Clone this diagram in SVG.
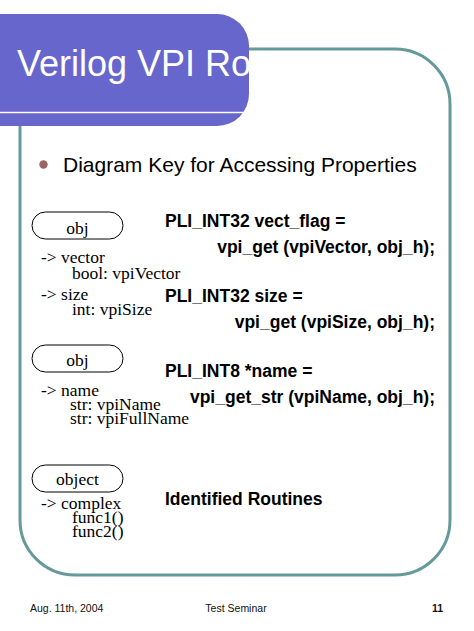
<svg xmlns="http://www.w3.org/2000/svg" width="474" height="631" viewBox="0 0 474 631">
<style>
.serif{font-family:"Liberation Serif","Times New Roman",serif;font-size:17.5px;fill:#000}
.code{font-family:"Liberation Sans",Arial,sans-serif;font-size:17.5px;font-weight:bold;fill:#000}
.foot{font-family:"Liberation Sans",Arial,sans-serif;font-size:10.5px;fill:#111}
.oval{fill:#fff;stroke:#000;stroke-width:1}
</style>
<defs>
<clipPath id="barClip"><path d="M0,14 H217 A32,32 0 0 1 249,46 V94 A32,32 0 0 1 217,126 H0 Z"/></clipPath>
</defs>
<rect width="474" height="631" fill="#fff"/>
<g id="frame">
<rect x="20" y="49" width="430" height="526" rx="55" ry="55" fill="none" stroke="#669999" stroke-width="3"/>
</g>
<g id="title-bar">
<path d="M0,14 H217 A32,32 0 0 1 249,46 V94 A32,32 0 0 1 217,126 H0 Z" fill="#6666CC"/>
<line x1="0" y1="112.5" x2="244" y2="112.5" stroke="#fff" stroke-width="1.6"/>
<text x="17" y="75.5" font-family="'Liberation Sans',Arial,sans-serif" font-size="36" fill="#fff" clip-path="url(#barClip)">Verilog VPI Routines</text>
</g>
<g id="bullet">
<circle cx="43.5" cy="164.5" r="4.2" fill="#996666"/>
<text x="63" y="172" font-family="'Liberation Sans',Arial,sans-serif" font-size="21" fill="#000">Diagram Key for Accessing Properties</text>
</g>
<g id="key-obj-1">
<rect class="oval" x="32" y="212" width="91" height="27" rx="13.5"/>
<text class="serif" x="77.5" y="234" text-anchor="middle">obj</text>
<text class="serif" x="41" y="263">-&gt; vector</text>
<text class="serif" x="72" y="279">bool: vpiVector</text>
<text class="serif" x="41" y="300">-&gt; size</text>
<text class="serif" x="72" y="315">int: vpiSize</text>
</g>
<g id="key-obj-2">
<rect class="oval" x="32" y="345" width="91" height="27" rx="13.5"/>
<text class="serif" x="77.5" y="366" text-anchor="middle">obj</text>
<text class="serif" x="41" y="396">-&gt; name</text>
<text class="serif" x="70" y="410">str: vpiName</text>
<text class="serif" x="70" y="424">str: vpiFullName</text>
</g>
<g id="key-object">
<rect class="oval" x="32" y="465" width="91" height="27" rx="13.5"/>
<text class="serif" x="77.5" y="485" text-anchor="middle">object</text>
<text class="serif" x="41" y="509">-&gt; complex</text>
<text class="serif" x="72" y="523">func1()</text>
<text class="serif" x="72" y="537">func2()</text>
</g>
<g id="code-vector">
<text class="code" x="165" y="227">PLI_INT32 vect_flag =</text>
<text class="code" x="435" y="253" text-anchor="end">vpi_get (vpiVector, obj_h);</text>
</g>
<g id="code-size">
<text class="code" x="165" y="302">PLI_INT32 size =</text>
<text class="code" x="435" y="328" text-anchor="end">vpi_get (vpiSize, obj_h);</text>
</g>
<g id="code-name">
<text class="code" x="165" y="377">PLI_INT8 *name =</text>
<text class="code" x="435" y="403" text-anchor="end">vpi_get_str (vpiName, obj_h);</text>
</g>
<g id="code-routines">
<text class="code" x="165" y="505">Identified Routines</text>
</g>
<g id="footer">
<text class="foot" x="30" y="612">Aug. 11th, 2004</text>
<text class="foot" x="236" y="612" text-anchor="middle">Test Seminar</text>
<text class="foot" x="443" y="612" text-anchor="end" font-weight="bold" font-size="12">11</text>
</g>
</svg>
